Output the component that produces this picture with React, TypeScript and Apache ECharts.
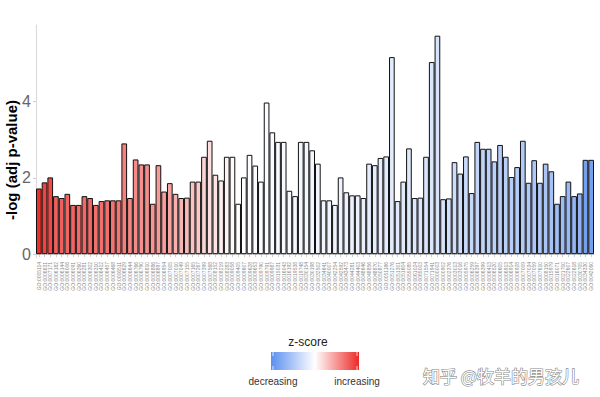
import React, { useEffect, useRef } from "react";
import * as echarts from "echarts";

const goTerms: string[] = [
  "GO:0005114", "GO:0006631", "GO:0007171", "GO:0006182", "GO:0006144", "GO:0006006", "GO:0006091", "GO:0006260", "GO:0006281", "GO:0006302",
  "GO:0006310", "GO:0006412", "GO:0006457", "GO:0006468", "GO:0006511", "GO:0006629", "GO:0006644", "GO:0006766", "GO:0006790", "GO:0006810",
  "GO:0006886", "GO:0006897", "GO:0006954", "GO:0007005", "GO:0007010", "GO:0007049", "GO:0007155", "GO:0007165", "GO:0007267", "GO:0007399",
  "GO:0007568", "GO:0008152", "GO:0008219", "GO:0008283", "GO:0009058", "GO:0009405", "GO:0009607", "GO:0009628", "GO:0009653", "GO:0009790",
  "GO:0009791", "GO:0009987", "GO:0015031", "GO:0016043", "GO:0016192", "GO:0019538", "GO:0019748", "GO:0030154", "GO:0030198", "GO:0032502",
  "GO:0034641", "GO:0040007", "GO:0042254", "GO:0042592", "GO:0043473", "GO:0044281", "GO:0044403", "GO:0048646", "GO:0048856", "GO:0048870",
  "GO:0050877", "GO:0051186", "GO:0051276", "GO:0051301", "GO:0051604", "GO:0055085", "GO:0061024", "GO:0065003", "GO:0071554", "GO:0071941",
  "GO:0000003", "GO:0000902", "GO:0002376", "GO:0003013", "GO:0003016", "GO:0005975", "GO:0006259", "GO:0006397", "GO:0006399", "GO:0006413",
  "GO:0006520", "GO:0006605", "GO:0006913", "GO:0006914", "GO:0006928", "GO:0007009", "GO:0007034", "GO:0007059", "GO:0007610", "GO:0008150",
  "GO:0015979", "GO:0016071", "GO:0021700", "GO:0022607", "GO:0022618", "GO:0030705", "GO:0034330", "GO:0042060",
];

const negLogP: number[] = [
  1.72, 1.88, 2.01, 1.52, 1.47, 1.58, 1.29, 1.29, 1.52, 1.47,
  1.29, 1.39, 1.41, 1.41, 1.41, 2.90, 1.47, 2.48, 2.35, 2.35,
  1.32, 2.33, 1.64, 1.86, 1.58, 1.47, 1.48, 1.90, 1.90, 2.55,
  2.97, 2.08, 1.93, 2.55, 2.55, 1.32, 2.01, 2.60, 2.32, 1.90,
  3.97, 3.19, 2.94, 2.94, 1.66, 1.52, 2.94, 2.94, 2.72, 2.37,
  1.41, 1.41, 1.29, 2.01, 1.62, 1.54, 1.54, 1.47, 2.37, 2.33,
  2.52, 2.56, 5.16, 1.39, 1.90, 2.77, 1.47, 1.48, 2.55, 5.03,
  5.72, 1.44, 1.46, 2.41, 2.11, 2.56, 1.60, 2.94, 2.76, 2.76,
  2.43, 2.86, 2.55, 2.02, 2.28, 2.97, 1.87, 2.46, 1.87, 2.37,
  2.17, 1.32, 1.52, 1.90, 1.52, 1.59, 2.47, 2.47,
];

const zScores: number[] = [
  3.9, 3.5, 3.4, 3.0, 3.0, 2.9, 2.9, 2.8, 2.8, 2.8,
  2.7, 2.7, 2.7, 2.6, 2.6, 2.4, 2.3, 2.2, 2.1, 2.1,
  2.0, 1.9, 1.8, 1.7, 1.5, 1.4, 1.3, 1.1, 1.0, 0.8,
  0.6, 0.5, 0.3, 0.2, 0.1, 0, 0, -0.05, -0.1, -0.1,
  -0.1, -0.15, -0.2, -0.2, -0.2, -0.25, -0.3, -0.3, -0.3, -0.35,
  -0.4, -0.4, -0.4, -0.45, -0.5, -0.5, -0.5, -0.55, -0.6, -0.6,
  -0.6, -0.65, -0.7, -0.7, -0.75, -0.8, -0.8, -0.85, -0.9, -0.9,
  -1.0, -1.0, -1.1, -1.2, -1.2, -1.3, -1.4, -1.5, -1.5, -1.6,
  -1.6, -1.7, -1.7, -1.8, -1.8, -1.9, -1.9, -2.0, -2.0, -2.1,
  -2.2, -2.3, -2.4, -2.5, -2.6, -2.7, -3.4, -3.4,
];

const yTicks: number[] = [0, 2, 4];

const BLUE = "#5b8ff0";
const RED = "#ec2a26";
const FONT = "'Liberation Sans', Arial, sans-serif";

export default function App() {
  const ref = useRef<HTMLDivElement>(null);
  useEffect(() => {
    if (!ref.current) return;
    const chart = echarts.init(ref.current, null, { renderer: "svg" });
    const data = goTerms.map((g, i) => [g, negLogP[i], zScores[i]]);
    chart.setOption({
      animation: false,
      backgroundColor: "#ffffff",
      textStyle: { fontFamily: FONT },
      grid: { left: 36, right: 6, top: 25, bottom: 139, containLabel: false },
      visualMap: {
        show: false,
        type: "continuous",
        dimension: 2,
        min: -4,
        max: 4,
        seriesIndex: 0,
        inRange: { color: [BLUE, "#ffffff", RED] },
      },
      xAxis: {
        type: "category",
        data: goTerms,
        boundaryGap: true,
        axisLine: { show: true, lineStyle: { color: "#d6d6d6", width: 1 } },
        axisTick: { show: true, alignWithLabel: true, length: 3, lineStyle: { color: "#cfcfcf" } },
        axisLabel: {
          interval: 0,
          rotate: 90,
          fontSize: 5,
          color: "#8a8a8a",
          margin: 4,
          fontFamily: FONT,
        },
        splitLine: { show: false },
      },
      yAxis: {
        type: "value",
        min: -0.1,
        max: 6.0,
        axisLine: { show: true, lineStyle: { color: "#dcdcdc", width: 1.2 } },
        axisTick: { show: true, length: 3, customValues: yTicks, lineStyle: { color: "#cfcfcf" } },
        axisLabel: {
          customValues: yTicks,
          fontSize: 16,
          color: "#666666",
          margin: 5,
          fontFamily: FONT,
        },
        splitLine: { show: false },
      },
      series: [
        {
          type: "bar",
          data,
          encode: { x: 0, y: 1 },
          barCategoryGap: "0%",
          itemStyle: { borderColor: "#111111", borderWidth: 1 },
        },
      ],
      graphic: [
        {
          type: "text",
          x: 11,
          y: 160,
          rotation: Math.PI / 2,
          style: {
            text: "-log (adj p-value)",
            fontSize: 15,
            fontWeight: "bold",
            fill: "#000000",
            fontFamily: FONT,
            align: "center",
            verticalAlign: "middle",
          },
        },
        {
          type: "text",
          x: 308,
          y: 342,
          style: {
            text: "z-score",
            fontSize: 12,
            fill: "#222222",
            fontFamily: FONT,
            align: "center",
            verticalAlign: "middle",
          },
        },
        {
          type: "rect",
          shape: { x: 271, y: 352, width: 88, height: 18 },
          style: {
            fill: new echarts.graphic.LinearGradient(0, 0, 1, 0, [
              { offset: 0, color: BLUE },
              { offset: 0.5, color: "#ffffff" },
              { offset: 1, color: RED },
            ]),
          },
        },
        {
          type: "line",
          shape: { x1: 273, y1: 352, x2: 273, y2: 356 },
          style: { stroke: "#ffffff", lineWidth: 0.8 },
        },
        {
          type: "line",
          shape: { x1: 273, y1: 366, x2: 273, y2: 370 },
          style: { stroke: "#ffffff", lineWidth: 0.8 },
        },
        {
          type: "line",
          shape: { x1: 357, y1: 352, x2: 357, y2: 356 },
          style: { stroke: "#ffffff", lineWidth: 0.8 },
        },
        {
          type: "line",
          shape: { x1: 357, y1: 366, x2: 357, y2: 370 },
          style: { stroke: "#ffffff", lineWidth: 0.8 },
        },
        {
          type: "text",
          x: 273,
          y: 381,
          style: {
            text: "decreasing",
            fontSize: 10,
            fill: "#333333",
            fontFamily: FONT,
            align: "center",
            verticalAlign: "middle",
          },
        },
        {
          type: "text",
          x: 357,
          y: 381,
          style: {
            text: "increasing",
            fontSize: 10,
            fill: "#333333",
            fontFamily: FONT,
            align: "center",
            verticalAlign: "middle",
          },
        },
        {
          type: "text",
          x: 423,
          y: 375,
          style: {
            text: "知乎 @牧羊的男孩儿",
            fontSize: 17,
            fill: "#ffffff",
            stroke: "#8a8a8a",
            lineWidth: 1.2,
            fontFamily: "'Noto Sans CJK SC', sans-serif",
            align: "left",
            verticalAlign: "middle",
          },
        },
      ],
    });
    return () => chart.dispose();
  }, []);
  return (
    <div
      ref={ref}
      style={{ position: "absolute", left: 0, top: 0, width: 600, height: 397 }}
    />
  );
}
